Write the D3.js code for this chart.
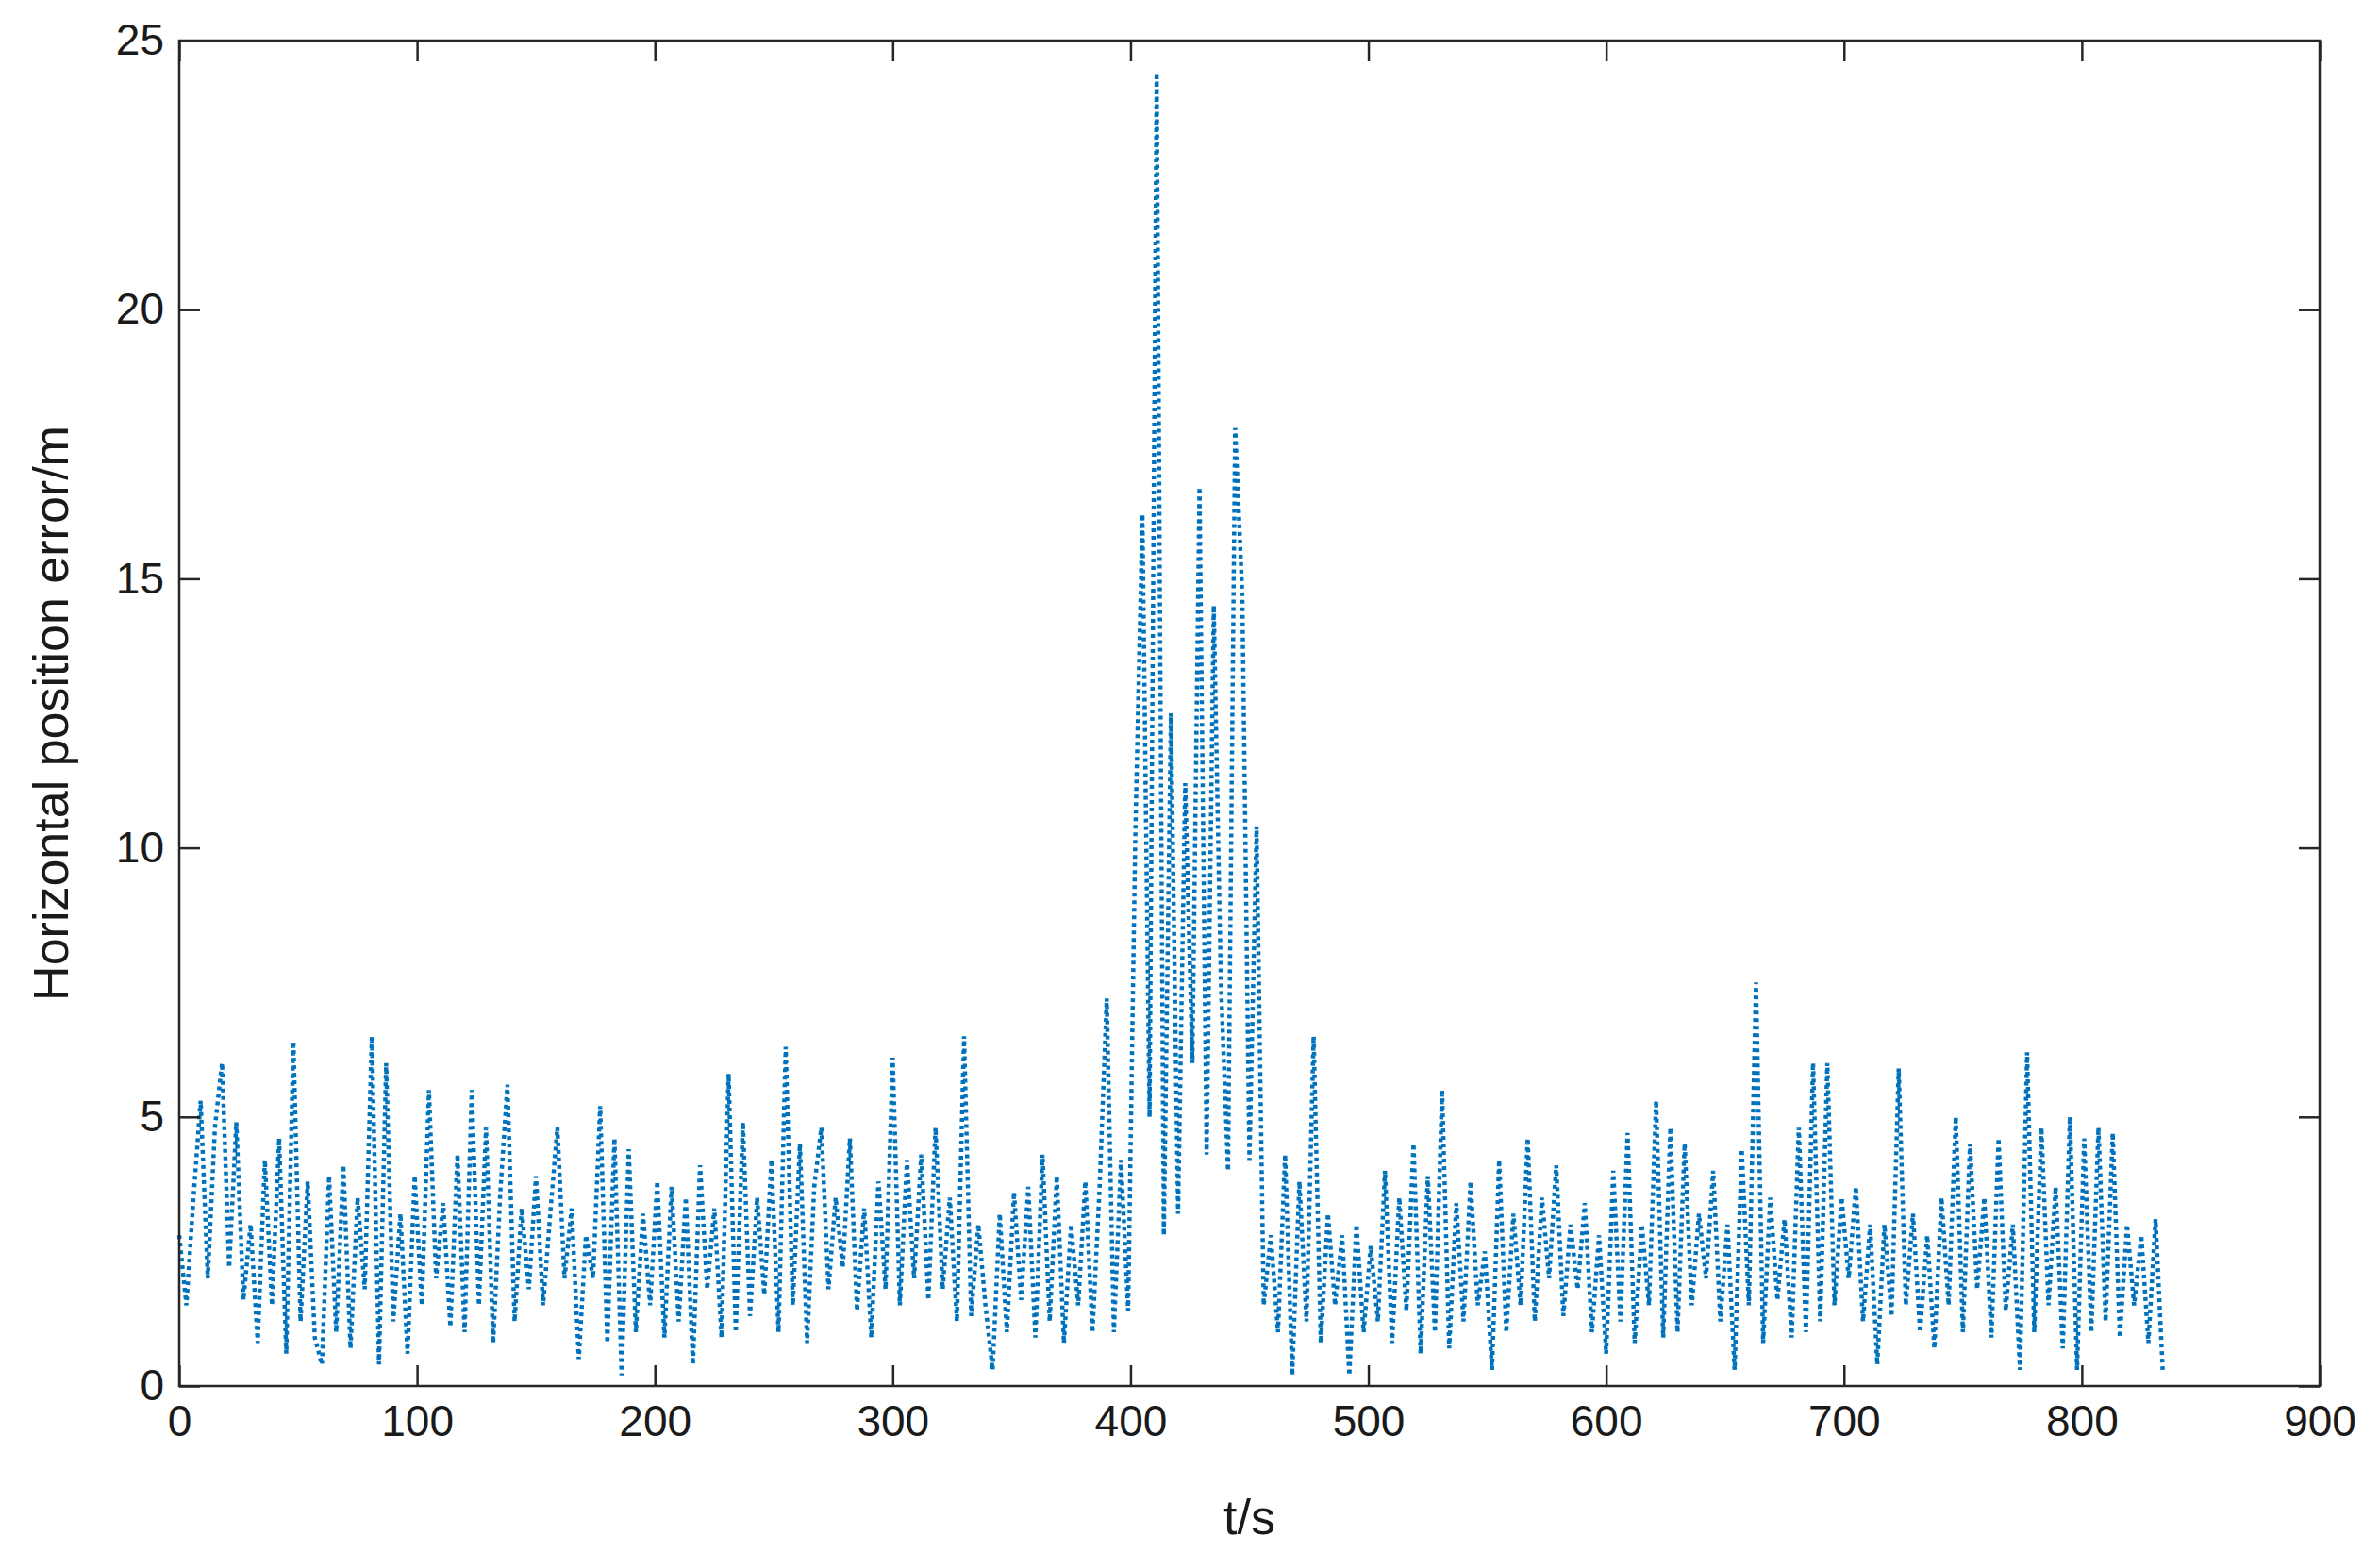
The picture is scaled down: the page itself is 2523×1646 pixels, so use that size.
<!DOCTYPE html>
<html><head><meta charset="utf-8">
<script src="https://cdn.jsdelivr.net/npm/d3@7"></script>
<style>body{margin:0;background:#fff}text{font-family:"Liberation Sans",Arial,sans-serif}</style>
</head><body><svg id="c" width="2523" height="1646"></svg>
<script>
// sampled every 3 s
var step = 3;
var errors = [
2.8,1.5,3.5,5.3,2.0,4.8,6.0,2.2,4.9,1.6,
3.0,0.8,4.2,1.5,4.6,0.6,6.4,1.2,3.8,0.9,
0.4,3.9,1.0,4.1,0.7,3.5,1.8,6.5,0.4,6.0,
1.2,3.2,0.6,3.9,1.5,5.5,2.0,3.4,1.1,4.3,
1.0,5.5,1.5,4.8,0.8,3.6,5.6,1.2,3.3,1.8,
3.9,1.5,3.2,4.8,2.0,3.3,0.5,2.8,2.0,5.2,
0.8,4.6,0.2,4.4,1.0,3.2,1.5,3.8,0.9,3.7,
1.2,3.5,0.4,4.1,1.8,3.3,0.9,5.8,1.0,4.9,
1.3,3.5,1.7,4.2,1.0,6.3,1.5,4.5,0.8,3.7,
4.8,1.8,3.5,2.2,4.6,1.4,3.3,0.9,3.8,1.8,
6.1,1.5,4.2,2.0,4.3,1.6,4.8,1.8,3.5,1.2,
6.5,1.3,3.0,1.5,0.3,3.2,1.0,3.6,1.6,3.7,
0.9,4.3,1.2,3.9,0.8,3.0,1.5,3.8,1.0,3.7,
7.2,1.0,4.2,1.4,10.2,16.2,5.0,24.4,2.8,12.5,
3.2,11.2,6.0,16.7,4.3,14.5,7.5,4.0,17.8,14.7,
4.2,10.4,1.5,2.8,1.0,4.3,0.2,3.8,1.2,6.5,
0.8,3.2,1.5,2.8,0.2,3.0,1.0,2.6,1.2,4.0,
0.8,3.5,1.4,4.5,0.6,3.9,1.0,5.5,0.7,3.4,
1.2,3.8,1.5,2.5,0.3,4.2,1.0,3.2,1.5,4.6,
1.2,3.5,2.0,4.1,1.3,3.0,1.8,3.4,1.0,2.8,
0.6,4.0,1.2,4.7,0.8,3.0,1.5,5.3,0.9,4.8,
1.0,4.5,1.5,3.2,2.0,4.0,1.2,3.0,0.3,4.4,
1.5,7.5,0.8,3.5,1.6,3.1,0.9,4.8,1.0,6.0,
1.2,6.0,1.5,3.5,2.0,3.7,1.2,3.0,0.4,3.0,
1.3,5.9,1.5,3.2,1.0,2.8,0.7,3.5,1.5,5.0,
1.0,4.5,1.8,3.5,0.9,4.6,1.4,3.0,0.3,6.2,
1.0,4.8,1.5,3.7,0.7,5.0,0.3,4.6,1.0,4.8,
1.2,4.7,0.9,3.0,1.5,2.8,0.8,3.1,0.3
];
var xTicks = [0,100,200,300,400,500,600,700,800,900];
var yTicks = [0,5,10,15,20,25];

var L = 190, R = 2459, T = 43, B = 1469;
var svg = d3.select("#c");
var x = d3.scaleLinear().domain([0,900]).range([L,R]);
var y = d3.scaleLinear().domain([0,25]).range([B,T]);

var line = d3.line().x(function(d,i){return x(i*step);}).y(function(d){return y(d);});
svg.append("path").datum(errors).attr("d",line)
   .attr("fill","none").attr("stroke","#0072BD").attr("stroke-width",4.5)
   .attr("stroke-dasharray","4,4");

var tl = 22;
var gx = svg.append("g").attr("transform","translate(0,"+B+")")
   .call(d3.axisBottom(x).tickValues(xTicks).tickSize(-tl).tickPadding(20));
var gx2 = svg.append("g").attr("transform","translate(0,"+T+")")
   .call(d3.axisTop(x).tickValues(xTicks).tickSize(-tl).tickFormat(""));
var gy = svg.append("g").attr("transform","translate("+L+",0)")
   .call(d3.axisLeft(y).tickValues(yTicks).tickSize(-tl).tickPadding(16));
var gy2 = svg.append("g").attr("transform","translate("+R+",0)")
   .call(d3.axisRight(y).tickValues(yTicks).tickSize(-tl).tickFormat(""));
[gx,gx2,gy,gy2].forEach(function(g){
  g.selectAll("path,line").attr("stroke","#262626").attr("stroke-width",2.5);
  g.selectAll("text").attr("font-size",46).attr("fill","#1a1a1a")
   .style("font-family","'Liberation Sans',Arial,sans-serif");
});
gx.select(".domain").remove(); gx2.select(".domain").remove();
gy.select(".domain").remove(); gy2.select(".domain").remove();
svg.append("rect").attr("x",L).attr("y",T).attr("width",R-L).attr("height",B-T)
   .attr("fill","none").attr("stroke","#262626").attr("stroke-width",2.5);

svg.append("text").attr("x",(L+R)/2).attr("y",1626).attr("text-anchor","middle")
   .attr("font-size",52).attr("fill","#1a1a1a").text("t/s");
svg.append("text").attr("transform","translate(72,"+((T+B)/2)+") rotate(-90)")
   .attr("text-anchor","middle").attr("font-size",52).attr("fill","#1a1a1a")
   .text("Horizontal position error/m");
</script></body></html>
